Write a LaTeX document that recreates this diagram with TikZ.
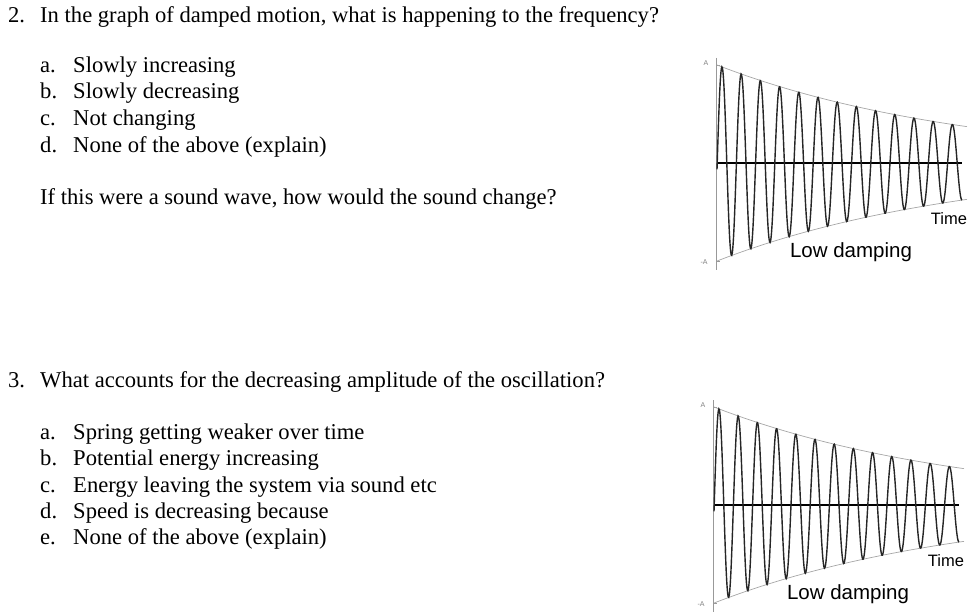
\documentclass[tikz,border=0pt]{standalone}
\usepackage{fontspec}
\setmainfont{Liberation Serif}
\newfontfamily\grsans{Liberation Sans}
\begin{document}
\begin{tikzpicture}[x=1pt,y=-1pt,
  q/.style={anchor=base west,inner sep=0pt,font=\fontsize{22.6}{26}\selectfont},
  lbl/.style={inner sep=0pt,font=\grsans\fontsize{20.5}{22}\selectfont},
  tiny/.style={inner sep=0pt,font=\grsans\fontsize{7}{8}\selectfont,text=gray},
  env/.style={gray!70,line width=0.7pt},
  wave/.style={black!85,line width=1.4pt}]
\useasboundingbox (0,0) rectangle (971,615);
% question 2
\node[q] (q2n) at (8,23) {2.};
\node[q] (q2) at (40,23) {In the graph of damped motion, what is happening to the frequency?};
\node[q] (q2a) at (40,73) {a.};\node[q] (q2at) at (73,73) {Slowly increasing};
\node[q] (q2b) at (40,99) {b.};\node[q] (q2bt) at (73,99) {Slowly decreasing};
\node[q] (q2c) at (40,125) {c.};\node[q] (q2ct) at (73,125) {Not changing};
\node[q] (q2d) at (40,152) {d.};\node[q] (q2dt) at (73,152) {None of the above (explain)};
\node[q] (q2s) at (40,204) {If this were a sound wave, how would the sound change?};
% question 3
\node[q] (q3n) at (8,387) {3.};
\node[q] (q3) at (40,387) {What accounts for the decreasing amplitude of the oscillation?};
\node[q] (q3a) at (40,439) {a.};\node[q] (q3at) at (73,439) {Spring getting weaker over time};
\node[q] (q3b) at (40,465) {b.};\node[q] (q3bt) at (73,465) {Potential energy increasing};
\node[q] (q3c) at (40,492) {c.};\node[q] (q3ct) at (73,492) {Energy leaving the system via sound etc};
\node[q] (q3d) at (40,518) {d.};\node[q] (q3dt) at (73,518) {Speed is decreasing because};
\node[q] (q3e) at (40,544) {e.};\node[q] (q3et) at (73,544) {None of the above (explain)};
% graphs
\foreach \sx/\sy/\g in {0/0/1,-3/342/2}{
\begin{scope}[shift={(\sx,\sy)}]
  \draw[gray!80,line width=0.6pt] (716,58) -- (716,270);
  \draw[gray!80,line width=0.6pt] (716,65) -- (720,65) (716,261) -- (720,261);
  \node[tiny] (gA\g) at (706,63) {A};
  \node[tiny] (gmA\g) at (704,262) {-A};
  \draw[env,domain=0:250,samples=60] plot ({717+\x},{163-98*exp(-0.00397*\x)});
  \draw[env,domain=0:250,samples=60] plot ({717+\x},{163+98*exp(-0.00397*\x)});
  \draw[black,line width=1.5pt] (717,163) -- (962,163);
  \draw[wave,domain=0:245,samples=500,smooth] plot ({717+\x},{163-98*exp(-0.00397*\x)*cos(mod(18.75*(\x-5),360))});
  \node[lbl,font=\grsans\fontsize{16.5}{18}\selectfont] (gt\g) at (949,219) {Time};
  \node[lbl] (gl\g) at (851,252) {Low damping};
\end{scope}}
\end{tikzpicture}
\end{document}
